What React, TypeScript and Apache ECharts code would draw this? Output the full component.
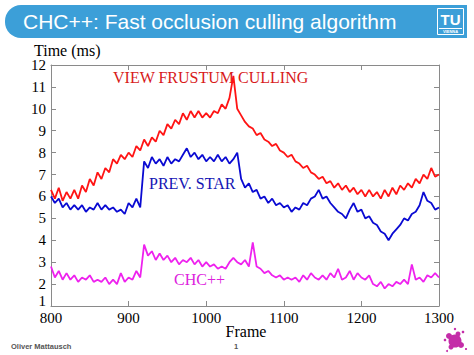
import React, { useEffect, useRef } from "react";
import * as echarts from "echarts";

// Frames sampled every 5 frames from 800 to 1300
const frames: number[] = Array.from({ length: 101 }, (_, i) => 800 + i * 5);

const yTicks = [1, 2, 3, 4, 5, 6, 7, 8, 9, 10, 11, 12];
const xTicks = [800, 900, 1000, 1100, 1200, 1300];

const viewFrustum = [
  6.3, 5.9, 6.4, 5.8, 6.2, 5.9, 6.3, 5.9, 6.5, 6.2,
  6.8, 6.5, 7.1, 6.8, 7.3, 7.1, 7.7, 7.5, 7.9, 7.7,
  8.0, 7.8, 8.3, 8.1, 8.6, 8.3, 8.7, 8.5, 9.0, 8.8,
  9.3, 9.1, 9.5, 9.3, 9.8, 9.5, 9.9, 9.6, 9.9, 9.6,
  9.8, 9.6, 9.9, 9.8, 10.2, 10.0, 10.5, 11.5, 10.0, 9.7,
  9.4, 9.2, 9.1, 8.8, 8.9, 8.6, 8.5, 8.3, 8.4, 8.1,
  8.0, 7.8, 7.9, 7.6, 7.5, 7.3, 7.4, 7.1, 7.0, 6.8,
  6.9, 6.6, 6.7, 6.4, 6.6, 6.3, 6.5, 6.2, 6.4, 6.1,
  6.3, 6.0, 6.3, 6.0, 6.2, 5.9, 6.3, 6.0, 6.4, 6.1,
  6.5, 6.3, 6.6, 6.4, 6.8, 6.6, 7.0, 6.8, 7.3, 6.9,
  7.0,
];

const prevStar = [
  6.0, 5.7, 5.9, 5.5, 5.7, 5.4, 5.6, 5.4, 5.6, 5.3,
  5.5, 5.4, 5.7, 5.4, 5.6, 5.4, 5.5, 5.3, 5.4, 5.2,
  5.7, 5.5, 5.9, 5.5, 7.6, 7.3, 7.8, 7.5, 7.7, 7.4,
  7.8, 7.5, 7.7, 7.6, 7.9, 8.2, 7.8, 8.0, 7.7, 7.9,
  7.6, 7.8, 7.6, 7.9, 7.6, 7.8, 7.5, 7.7, 8.0, 6.8,
  6.4, 6.6, 6.2, 6.3, 5.9, 6.0, 5.7, 5.9, 5.6, 5.7,
  5.5, 5.6, 5.3, 5.5, 5.4, 5.7, 5.6, 5.9, 6.0, 6.3,
  5.9, 6.0, 5.7, 5.5, 5.3, 5.2, 5.0, 5.4, 5.7, 5.3,
  5.4, 5.0, 5.1, 4.8, 4.7, 4.4, 4.3, 4.0, 4.3, 4.5,
  4.7, 5.0, 4.9, 5.2, 5.3, 5.6, 6.2, 5.8, 5.7, 5.4,
  5.5,
];

const chcpp = [
  2.8, 2.3, 2.6, 2.2, 2.5, 2.2, 2.4, 2.1, 2.3, 2.2,
  2.4, 2.1, 2.2, 2.1, 2.3, 2.0, 2.2, 2.0, 2.5, 2.1,
  2.3, 2.2, 2.6, 2.3, 3.8, 3.3, 3.5, 3.1, 3.4, 3.1,
  3.3, 3.0, 3.2, 2.9, 3.1, 3.0, 3.2, 2.9, 3.1, 2.8,
  3.0, 2.8, 2.9, 2.7, 2.8, 2.7, 3.0, 3.2, 3.0, 2.9,
  3.1, 2.8, 3.9, 2.8, 2.7, 2.5, 2.6, 2.4, 2.3, 2.4,
  2.2, 2.3, 2.2, 2.3, 2.1, 2.4, 2.2, 2.5, 2.3, 2.2,
  2.4, 2.2, 2.5, 2.3, 2.7, 2.2, 2.3, 2.6, 2.2, 2.5,
  2.3, 2.2, 2.4, 2.0, 1.9, 2.1, 1.8, 2.0, 1.9, 2.1,
  2.0, 2.2, 2.0, 2.9, 2.2, 2.3, 2.1, 2.4, 2.3, 2.5,
  2.3,
];

const seriesNames = ["VIEW FRUSTUM CULLING", "PREV. STAR", "CHC++"];

const SERIF = '"Liberation Serif", "Times New Roman", "DejaVu Serif", serif';
const SANS = '"Liberation Sans", Arial, Helvetica, sans-serif';

export default function App() {
  const ref = useRef<HTMLDivElement>(null);

  useEffect(() => {
    if (!ref.current) return;
    const chart = echarts.init(ref.current, undefined, { renderer: "svg" });
    const pair = (vals: number[]) => vals.map((v, i) => [frames[i], v]);
    const axisGray = "#8a8a8a";

    const xBase = {
      type: "value" as const,
      min: xTicks[0],
      max: xTicks[xTicks.length - 1],
      interval: 100,
      splitLine: { show: false },
      axisLine: { show: true, lineStyle: { color: axisGray, width: 1 } },
      axisTick: { show: true, inside: true, length: 5, lineStyle: { color: axisGray } },
    };
    const yBase = {
      type: "value" as const,
      min: yTicks[0],
      max: yTicks[yTicks.length - 1],
      interval: 1,
      splitLine: { show: false },
      axisLine: { show: true, lineStyle: { color: axisGray, width: 1 } },
      axisTick: { show: true, inside: true, length: 5, lineStyle: { color: axisGray } },
    };

    chart.setOption({
      animation: false,
      backgroundColor: "#ffffff",
      grid: { left: 51, right: 35, top: 65, bottom: 49, containLabel: false },
      xAxis: [
        {
          ...xBase,
          position: "bottom",
          axisLabel: {
            show: true,
            margin: 6,
            fontFamily: SERIF,
            fontSize: 15,
            lineHeight: 12,
            color: "#000",
            formatter: (v: number) => String(v),
          },
        },
        { ...xBase, position: "top", axisLabel: { show: false } },
      ],
      yAxis: [
        {
          ...yBase,
          position: "left",
          axisLabel: {
            show: true,
            showMinLabel: false,
            margin: 5,
            fontFamily: SERIF,
            fontSize: 15,
            lineHeight: 12,
            color: "#000",
            formatter: (v: number) => String(v),
          },
        },
        { ...yBase, position: "right", axisLabel: { show: false } },
      ],
      series: [
        {
          name: seriesNames[0],
          type: "line",
          data: pair(viewFrustum),
          symbol: "none",
          lineStyle: { color: "#ff1414", width: 1.8 },
        },
        {
          name: seriesNames[1],
          type: "line",
          data: pair(prevStar),
          symbol: "none",
          lineStyle: { color: "#0a0ad2", width: 1.8 },
        },
        {
          name: seriesNames[2],
          type: "line",
          data: pair(chcpp),
          symbol: "none",
          lineStyle: { color: "#ee22ee", width: 1.8 },
        },
      ],
      graphic: [
        // header bar
        {
          type: "rect",
          shape: { x: 5, y: 5, width: 462, height: 33, r: [16, 0, 0, 16] },
          style: { fill: "#3c9fd8" },
        },
        {
          type: "text",
          x: 23,
          y: 21.5,
          style: {
            text: "CHC++: Fast occlusion culling algorithm",
            fill: "#ffffff",
            font: `21px ${SANS}`,
            verticalAlign: "middle",
          },
        },
        // TU logo
        {
          type: "rect",
          shape: { x: 437.5, y: 8.5, width: 26, height: 26 },
          style: { fill: "none", stroke: "#ffffff", lineWidth: 1 },
        },
        {
          type: "text",
          x: 450.5,
          y: 19,
          style: {
            text: "TU",
            fill: "#ffffff",
            font: `bold 15px ${SANS}`,
            align: "center",
            verticalAlign: "middle",
          },
        },
        {
          type: "line",
          shape: { x1: 439, y1: 28.5, x2: 462, y2: 28.5 },
          style: { stroke: "#ffffff", lineWidth: 1 },
        },
        {
          type: "text",
          x: 450.5,
          y: 31.5,
          style: {
            text: "VIENNA",
            fill: "#ffffff",
            font: `bold 4px ${SANS}`,
            align: "center",
            verticalAlign: "middle",
          },
        },
        // lowest y tick label, lifted slightly above the x labels as in the reference
        {
          type: "text",
          x: 46,
          y: 301,
          style: {
            text: String(yTicks[0]),
            fill: "#000",
            font: `15px ${SERIF}`,
            align: "right",
            verticalAlign: "middle",
          },
        },
        // axis titles
        {
          type: "text",
          x: 34,
          y: 50,
          style: { text: "Time (ms)", fill: "#000", font: `16px ${SERIF}`, verticalAlign: "middle" },
        },
        {
          type: "text",
          x: 246,
          y: 331,
          style: {
            text: "Frame",
            fill: "#000",
            font: `16px ${SERIF}`,
            align: "center",
            verticalAlign: "middle",
          },
        },
        // series annotations
        {
          type: "text",
          x: 113,
          y: 77,
          style: { text: seriesNames[0], fill: "#d81a1a", font: `16px ${SERIF}`, verticalAlign: "middle" },
        },
        {
          type: "text",
          x: 149,
          y: 183.5,
          style: { text: seriesNames[1], fill: "#1414b4", font: `16px ${SERIF}`, verticalAlign: "middle" },
        },
        {
          type: "text",
          x: 174,
          y: 279,
          style: { text: seriesNames[2], fill: "#dd22dd", font: `16px ${SERIF}`, verticalAlign: "middle" },
        },
        // footer
        {
          type: "text",
          x: 11,
          y: 346,
          style: { text: "Oliver Mattausch", fill: "#555555", font: `bold 7.5px ${SANS}`, verticalAlign: "middle" },
        },
        {
          type: "text",
          x: 236,
          y: 346,
          style: { text: "1", fill: "#555555", font: `bold 7.5px ${SANS}`, align: "center", verticalAlign: "middle" },
        },
        // splash logo
        {
          type: "group",
          children: [
            { type: "circle", shape: { cx: 455, cy: 341, r: 6.5 }, style: { fill: "#c42ca8" } },
            { type: "circle", shape: { cx: 449, cy: 336, r: 3 }, style: { fill: "#c42ca8" } },
            { type: "circle", shape: { cx: 461, cy: 345, r: 3 }, style: { fill: "#c42ca8" } },
            { type: "circle", shape: { cx: 458, cy: 334, r: 2.5 }, style: { fill: "#c42ca8" } },
            { type: "circle", shape: { cx: 451, cy: 347, r: 2.5 }, style: { fill: "#c42ca8" } },
            { type: "circle", shape: { cx: 463, cy: 332, r: 1.3 }, style: { fill: "#c42ca8" } },
            { type: "circle", shape: { cx: 445, cy: 340, r: 1.3 }, style: { fill: "#c42ca8" } },
            { type: "circle", shape: { cx: 455, cy: 329, r: 1.2 }, style: { fill: "#c42ca8" } },
            { type: "circle", shape: { cx: 466, cy: 349, r: 1.1 }, style: { fill: "#c42ca8" } },
            { type: "circle", shape: { cx: 447, cy: 351, r: 1.0 }, style: { fill: "#c42ca8" } },
          ],
        },
      ],
    });

    return () => {
      chart.dispose();
    };
  }, []);

  return (
    <div
      ref={ref}
      style={{ position: "fixed", left: 0, top: 0, width: 474, height: 355, background: "#fff" }}
    />
  );
}
